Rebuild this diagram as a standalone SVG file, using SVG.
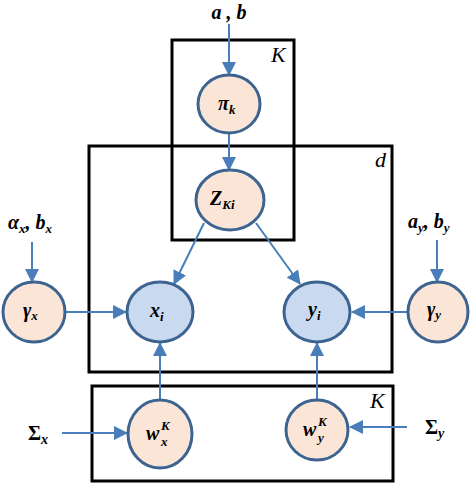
<svg xmlns="http://www.w3.org/2000/svg" width="474" height="487" viewBox="0 0 474 487">
<defs>
<style>
.plate{fill:none;stroke:#000;stroke-width:3}
.n{stroke:#3d6491;stroke-width:3}
.p{fill:#fbe5d6}
.b{fill:#c9daf0}
.e{stroke:#4a7ebb;stroke-width:2;fill:none;marker-end:url(#ah)}
.t{font-family:"Liberation Serif",serif;font-weight:bold;font-style:italic;fill:#000;font-size:20px}
.pl{font-family:"Liberation Serif",serif;font-style:italic;font-size:22px;fill:#000}
.s{font-size:13px}
</style>
<marker id="ah" markerUnits="userSpaceOnUse" markerWidth="14" markerHeight="14" viewBox="0 0 14 14" refX="13" refY="7" orient="auto">
<path d="M0,0 L14,7 L0,14 Z" fill="#4a7ebb"/>
</marker>
</defs>
<g id="plates">
<rect class="plate" x="172" y="40" width="122" height="200"/>
<rect class="plate" x="89" y="146" width="303" height="226"/>
<rect class="plate" x="92" y="386" width="301" height="95"/>
<text class="pl" x="271" y="62">K</text>
<text class="pl" x="375" y="167">d</text>
<text class="pl" x="370" y="408">K</text>
</g>
<g id="connectors">
<line class="e" x1="229" y1="24" x2="229" y2="75"/>
<line class="e" x1="229" y1="134" x2="229" y2="170"/>
<line class="e" x1="204" y1="223" x2="174" y2="284"/>
<line class="e" x1="256" y1="223" x2="300" y2="284"/>
<line class="e" x1="65" y1="312" x2="126" y2="312"/>
<line class="e" x1="407" y1="312" x2="352" y2="312"/>
<line class="e" x1="32" y1="242" x2="32" y2="282"/>
<line class="e" x1="437" y1="240" x2="437" y2="282"/>
<line class="e" x1="160" y1="399" x2="160" y2="343"/>
<line class="e" x1="317" y1="400" x2="317" y2="343"/>
<line class="e" x1="62" y1="433" x2="127" y2="433"/>
<line class="e" x1="407" y1="427" x2="350" y2="427"/>
</g>
<g id="labels">
<text class="t" x="229" y="19" text-anchor="middle">a , b</text>
<text class="t" x="8" y="229">α<tspan class="s" dy="4">x</tspan><tspan dy="-4">, b</tspan><tspan class="s" dy="4">x</tspan></text>
<text class="t" x="408" y="228">a<tspan class="s" dy="4">y</tspan><tspan dy="-4">, b</tspan><tspan class="s" dy="4">y</tspan></text>
<text x="28" y="440" font-family="Liberation Serif,serif" font-size="20" font-weight="bold">Σ<tspan font-style="italic" font-size="14" dy="4">x</tspan></text>
<text x="425" y="434" font-family="Liberation Serif,serif" font-size="20" font-weight="bold">Σ<tspan font-style="italic" font-size="14" dy="4">y</tspan></text>
</g>
<g id="pi_k"><ellipse class="n p" cx="229" cy="104" rx="31" ry="29"/><text class="t" x="218" y="110">π<tspan class="s" dy="4">k</tspan></text></g>
<g id="z_Ki"><ellipse class="n p" cx="230" cy="200" rx="34" ry="30"/><text class="t" x="210" y="205">Z<tspan class="s" dy="4">Ki</tspan></text></g>
<g id="x_i"><ellipse class="n b" cx="160" cy="312" rx="33" ry="30"/><text class="t" x="150" y="317">x<tspan class="s" dy="4">i</tspan></text></g>
<g id="y_i"><ellipse class="n b" cx="317" cy="312" rx="33" ry="30"/><text class="t" x="308" y="316">y<tspan class="s" dy="4">i</tspan></text></g>
<g id="gamma_x"><ellipse class="n p" cx="34" cy="312" rx="31" ry="30"/><text class="t" x="23" y="317">γ<tspan class="s" dy="3">x</tspan></text></g>
<g id="gamma_y"><ellipse class="n p" cx="438" cy="312" rx="30" ry="30"/><text class="t" x="427" y="316">γ<tspan class="s" dy="3">y</tspan></text></g>
<g id="w_x"><ellipse class="n p" cx="160" cy="434" rx="32" ry="34"/><text class="t" x="146" y="440">w</text><text class="t s" x="161" y="430">K</text><text class="t s" x="161" y="446">x</text></g>
<g id="w_y"><ellipse class="n p" cx="317" cy="430" rx="31" ry="30"/><text class="t" x="303" y="436">w</text><text class="t s" x="318" y="426">K</text><text class="t s" x="318" y="442">y</text></g>
</svg>
